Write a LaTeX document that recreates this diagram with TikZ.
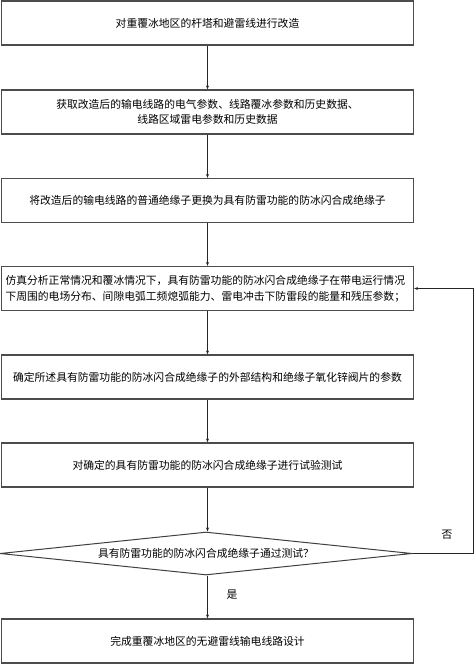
\documentclass[tikz,border=0pt]{standalone}
\usepackage{fontspec}
\setmainfont{Noto Sans CJK SC}
\usetikzlibrary{arrows.meta,shapes.geometric}
\begin{document}
\begin{tikzpicture}[x=1pt,y=-1pt,
  stepbox/.style={draw=black!70,line width=1.2pt,minimum width=412pt,minimum height=44pt,inner sep=0pt,font=\fontsize{10.8pt}{15pt}\selectfont,align=center},
  decbox/.style={draw=black!75,line width=1pt,diamond,shape aspect=9.6,minimum width=412pt,minimum height=43pt,inner sep=0pt,font=\fontsize{10.8pt}{15pt}\selectfont},
  arr/.style={draw=black!85,line width=0.8pt,-{Stealth[length=4pt,width=3pt]}},
  lbl/.style={font=\fontsize{10.8pt}{13pt}\selectfont,inner sep=0pt}]
\useasboundingbox (0,0) rectangle (474,665);
\node[stepbox] (b1) at (207.5,23) {对重覆冰地区的杆塔和避雷线进行改造};
\node[stepbox] (b2) at (207.5,112) {获取改造后的输电线路的电气参数、线路覆冰参数和历史数据、\\线路区域雷电参数和历史数据};
\node[stepbox] (b3) at (207.5,200.5) {将改造后的输电线路的普通绝缘子更换为具有防雷功能的防冰闪合成绝缘子};
\node[stepbox,align=left,text width=404pt,inner xsep=4pt,font=\fontsize{10.8pt}{16pt}\selectfont] (b4) at (207.5,288.5) {仿真分析正常情况和覆冰情况下，具有防雷功能的防冰闪合成绝缘子在带电运行情况\\下周围的电场分布、间隙电弧工频熄弧能力、雷电冲击下防雷段的能量和残压参数；};
\node[stepbox] (b5) at (207.5,377) {确定所述具有防雷功能的防冰闪合成绝缘子的外部结构和绝缘子氧化锌阀片的参数};
\node[stepbox] (b6) at (207.5,465) {对确定的具有防雷功能的防冰闪合成绝缘子进行试验测试};
\node[decbox] (d) at (206,553.5) {具有防雷功能的防冰闪合成绝缘子通过测试？};
\node[stepbox] (b7) at (207.5,641) {完成重覆冰地区的无避雷线输电线路设计};
\coordinate (fb) at (473,553.5);
\draw[arr] (b1) -- (b2);
\draw[arr] (b2) -- (b3);
\draw[arr] (b3) -- (b4);
\draw[arr] (b4) -- (b5);
\draw[arr] (b5) -- (b6);
\draw[arr] (b6.south) -- (b6.south |- d.north);
\draw[arr] (b7.north |- d.south) -- (b7.north);
\draw[arr] (d.east) -- (fb) |- (b4.east);
\node[lbl] (no) at (447,535) {否};
\node[lbl] (yes) at (232,595) {是};
\end{tikzpicture}
\end{document}
